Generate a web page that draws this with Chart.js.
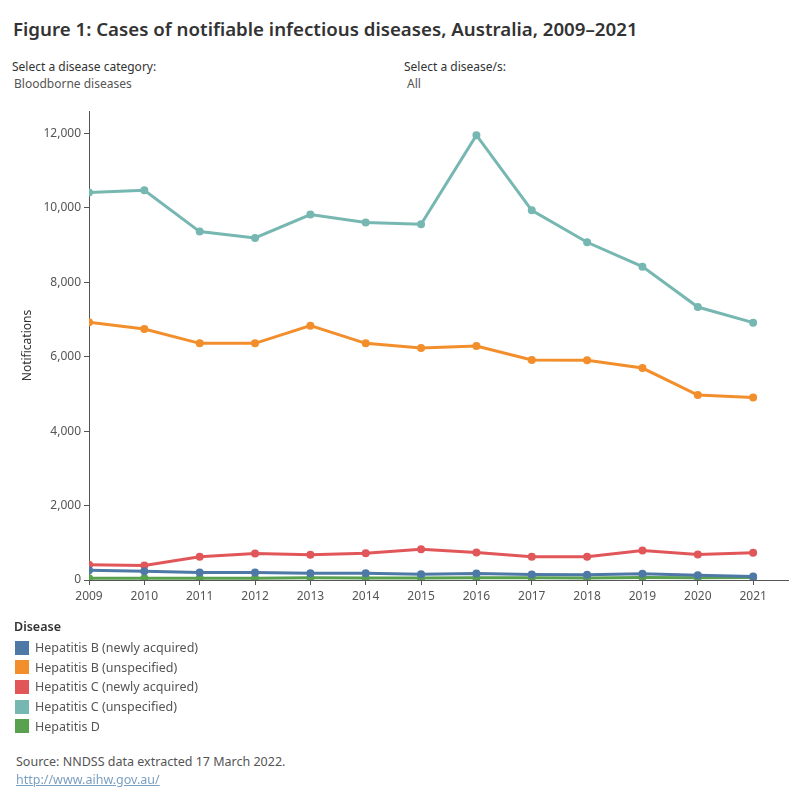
<!DOCTYPE html>
<html lang="en">
<head>
<meta charset="UTF-8">
<title>Cases of notifiable infectious diseases</title>
<script src="https://cdn.jsdelivr.net/npm/chart.js"></script>
<style>
    body { margin: 0; width: 800px; height: 800px; background: #fff; font-family: "Noto Sans", "Open Sans", sans-serif; color: #333; position: relative; overflow: hidden; }
    h1 { position: absolute; left: 13px; top: 16px; margin: 0; font-size: 18.7px; font-weight: 600; color: #333; }
    .lbl { position: absolute; font-size: 12px; color: #333; }
    .val { position: absolute; font-size: 12px; color: #555; }
    #wrap { position: absolute; left: 0; top: 100px; width: 800px; height: 520px; }
    #legend { position: absolute; left: 14px; top: 618px; font-size: 12.5px; color: #555; }
    #legend .ttl { font-weight: 600; color: #333; margin-bottom: 3px; }
    #legend .item { height: 19.6px; display: flex; align-items: center; }
    #legend .sw { width: 14px; height: 14px; margin: 0 6px 0 1px; }
    .src { position: absolute; left: 16px; font-size: 12.5px; color: #555; }
    .src a { color: #7b9fc2; }
</style>
</head>
<body>
<h1>Figure 1: Cases of notifiable infectious diseases, Australia, 2009–2021</h1>
<div class="lbl" style="left:12px;top:58px">Select a disease category:</div>
<div class="val" style="left:14px;top:75px">Bloodborne diseases</div>
<div class="lbl" style="left:404px;top:58px">Select a disease/s:</div>
<div class="val" style="left:407px;top:75px">All</div>

<div id="wrap"><canvas id="chart"></canvas></div>
<div id="legend"></div>

<div class="src" style="top:753px">Source: NNDSS data extracted 17 March 2022.</div>
<div class="src" style="top:771px"><a href="http://www.aihw.gov.au/">http://www.aihw.gov.au/</a></div>

<script>
    const years = [2009, 2010, 2011, 2012, 2013, 2014, 2015, 2016, 2017, 2018, 2019, 2020, 2021];
    const yTicks = [0, 2000, 4000, 6000, 8000, 10000, 12000];

    const hepBNew = [263, 237, 202, 202, 183, 183, 156, 175, 148, 140, 167, 129, 94];
    const hepBUnspec = [6922, 6742, 6358, 6358, 6833, 6358, 6231, 6285, 5909, 5901, 5694, 4968, 4906];
    const hepCNew = [409, 390, 624, 712, 677, 720, 828, 739, 624, 624, 793, 685, 731];
    const hepCUnspec = [10409, 10470, 9360, 9188, 9817, 9602, 9556, 11949, 9933, 9073, 8419, 7333, 6914];
    const hepD = [50, 45, 45, 45, 60, 55, 55, 60, 60, 55, 70, 60, 65];

    const series = [
        { label: 'Hepatitis B (newly acquired)', data: hepBNew, color: '#4e79a7' },
        { label: 'Hepatitis B (unspecified)', data: hepBUnspec, color: '#f28e2b' },
        { label: 'Hepatitis C (newly acquired)', data: hepCNew, color: '#e15759' },
        { label: 'Hepatitis C (unspecified)', data: hepCUnspec, color: '#76b7b2' },
        { label: 'Hepatitis D', data: hepD, color: '#59a14f' }
    ];

    // legend in html
    const legend = document.getElementById('legend');
    legend.innerHTML = '<div class="ttl">Disease</div>' + series.map(s =>
        `<div class="item"><span class="sw" style="background:${s.color}"></span>${s.label}</div>`).join('');

    const axisColor = '#555';
    const tickFont = { family: '"Noto Sans", sans-serif', size: 12 };

    new Chart(document.getElementById('chart'), {
        type: 'line',
        data: {
            datasets: series.map(s => ({
                label: s.label,
                data: s.data.map((v, i) => ({ x: years[i], y: v })),
                borderColor: s.color,
                backgroundColor: s.color,
                borderWidth: 3,
                pointRadius: 2.5,
                pointHoverRadius: 2.5,
                tension: 0
            }))
        },
        options: {
            responsive: true,
            maintainAspectRatio: false,
            animation: false,
            layout: { padding: { top: 11, right: 12, left: 0, bottom: 0 } },
            plugins: { legend: { display: false }, tooltip: { enabled: false } },
            scales: {
                x: {
                    type: 'linear',
                    min: 2009,
                    max: 2021.63,
                    afterBuildTicks: scale => { scale.ticks = years.map(v => ({ value: v })); },
                    afterFit: scale => { scale.height = 40; },
                    ticks: { color: '#555', font: tickFont, padding: 4, maxRotation: 0, callback: v => String(v) },
                    grid: { display: true, drawOnChartArea: false, color: axisColor, tickLength: 5 },
                    border: { display: true, color: axisColor }
                },
                y: {
                    min: 0,
                    max: 12600,
                    afterBuildTicks: scale => { scale.ticks = yTicks.map(v => ({ value: v })); },
                    afterFit: scale => { scale.width = 89; },
                    ticks: { color: '#555', font: tickFont, padding: 3, callback: v => v.toLocaleString('en-US') },
                    grid: { display: true, drawOnChartArea: false, color: axisColor, tickLength: 5 },
                    border: { display: true, color: axisColor },
                    title: { display: true, text: 'Notifications', color: '#333', font: { family: '"Noto Sans", sans-serif', size: 12 }, padding: { top: 20, bottom: 0 } }
                }
            }
        }
    });
</script>
</body>
</html>
